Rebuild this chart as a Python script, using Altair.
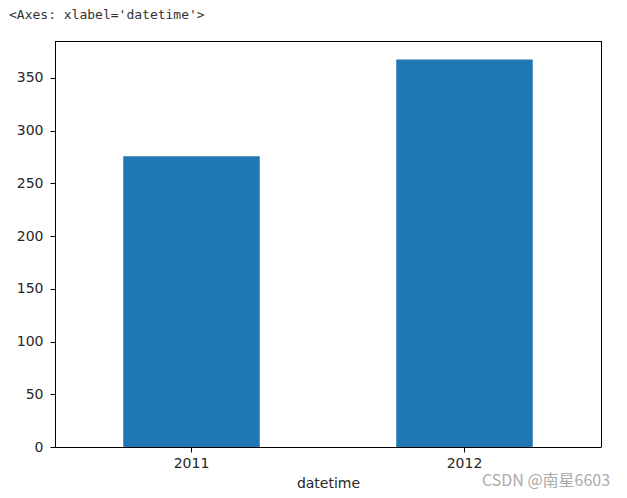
import altair as alt
import pandas as pd

years = ["2011", "2012"]
counts = [275.6, 367.4]
y_ticks = [0, 50, 100, 150, 200, 250, 300, 350]
header_text = ["<Axes: xlabel='datetime'>"]
watermark_text = ["CSDN @南星6603"]

df = pd.DataFrame({"datetime": years, "count": counts})
hdr = pd.DataFrame({"t": header_text})
wm = pd.DataFrame({"t": watermark_text})

W, H = 546, 406

bars = alt.Chart(df).mark_bar(color="#1f77b4").encode(
    x=alt.X(
        "datetime:N",
        scale=alt.Scale(paddingInner=0.5, paddingOuter=0.25),
        axis=alt.Axis(
            title="datetime", labelAngle=0, tickSize=5, labelPadding=4,
            labelFontSize=14, titleFontSize=14, titleFontWeight="normal",
            titlePadding=6, labelColor="#262626", titleColor="#262626",
            domainColor="black", tickColor="black", labelFont="DejaVu Sans",
            titleFont="DejaVu Sans",
        ),
    ),
    y=alt.Y(
        "count:Q",
        scale=alt.Scale(domain=[0, 385], nice=False),
        axis=alt.Axis(
            title=None, values=y_ticks, tickSize=5, labelPadding=7,
            labelFontSize=14, grid=False, labelColor="#262626",
            domainColor="black", tickColor="black", labelFont="DejaVu Sans",
        ),
    ),
)

top_rule = alt.Chart(hdr).mark_rule(color="black", strokeWidth=1).encode(
    x=alt.value(0), x2=alt.value(W), y=alt.value(0.5)
)
right_rule = alt.Chart(hdr).mark_rule(color="black", strokeWidth=1).encode(
    x=alt.value(W + 0.5), y=alt.value(0), y2=alt.value(H)
)

header = alt.Chart(hdr).mark_text(
    align="left", baseline="top", font="DejaVu Sans Mono", fontSize=13,
    color="#333333",
).encode(x=alt.value(-46), y=alt.value(-32), text="t:N")

watermark = alt.Chart(wm).mark_text(
    align="left", baseline="middle", font="Noto Sans CJK SC", fontSize=16,
    color="#aaaaaa",
).encode(x=alt.value(427), y=alt.value(440), text="t:N")

chart = alt.layer(bars, top_rule, right_rule, header, watermark).properties(
    width=W, height=H,
    autosize=alt.AutoSizeParams(type="none"),
    padding={"left": 47, "top": 33, "right": 18, "bottom": 43},
).configure_view(strokeWidth=0).configure(background="white")

chart.save("out.html", embed_options={"renderer": "svg", "actions": False})
